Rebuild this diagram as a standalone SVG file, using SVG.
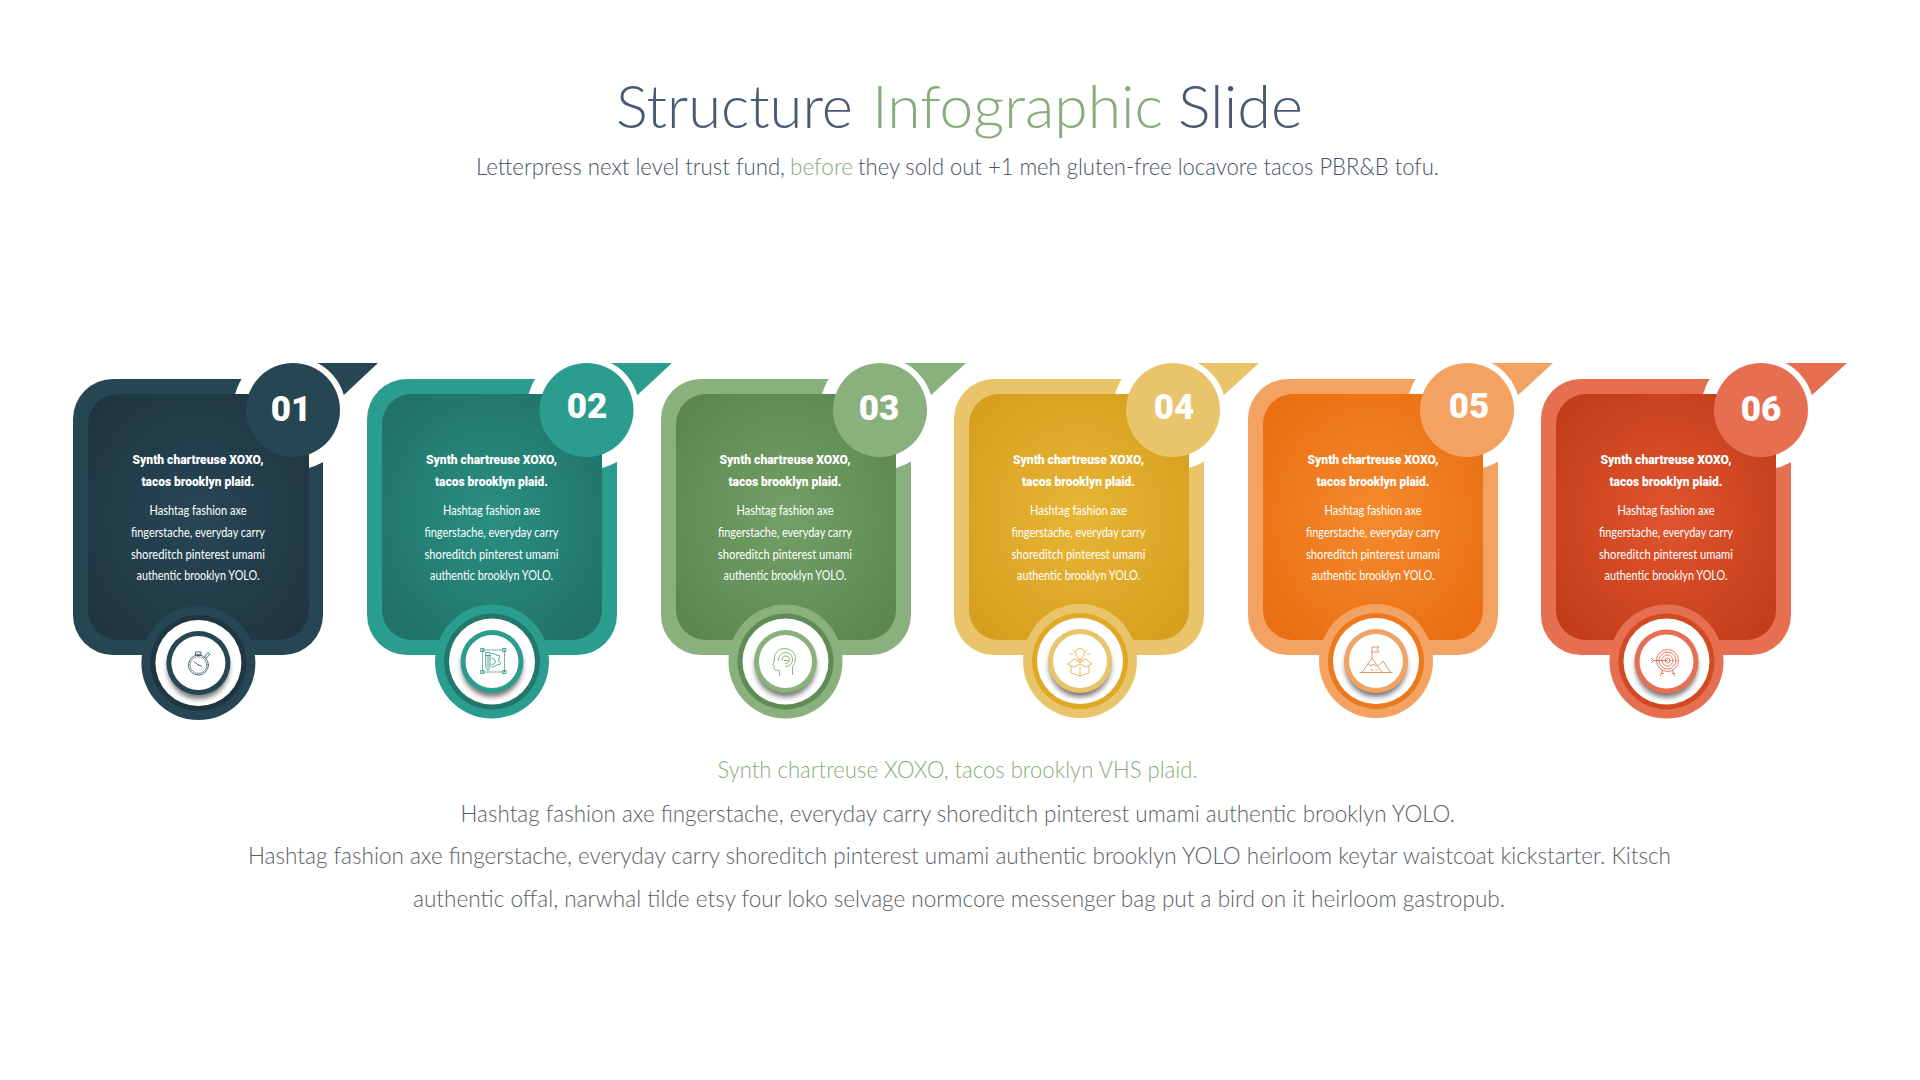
<svg xmlns="http://www.w3.org/2000/svg" width="1920" height="1080" viewBox="0 0 1920 1080">
<style>
.t{font-family:"Lato","Open Sans","Liberation Sans",sans-serif;font-weight:300;text-anchor:start}
.title{font-size:60px;fill:#475a72}
.sub{font-size:23px;fill:#47535f}
.body{font-size:24px;fill:#5a5e64}
.green,.title.green,.sub.green,.body.green{fill:#86ad79}
.h{font-family:"Roboto","Liberation Sans",sans-serif;font-weight:900;font-size:13px;fill:#fff;text-anchor:middle}
.b{font-family:"Lato","Open Sans","Liberation Sans",sans-serif;font-weight:400;font-size:12.5px;fill:#fff;text-anchor:middle}
.n{font-family:"Roboto","Liberation Sans",sans-serif;font-weight:900;font-size:35px;fill:#fff;text-anchor:middle}
.w{fill:#fff}
.ic{fill:none;stroke-width:.8;stroke-linecap:round;stroke-linejoin:round}
.s{fill:#222;opacity:.6;filter:url(#blur)}
</style>
<defs>
<filter id="blur" x="-30%" y="-30%" width="160%" height="160%"><feGaussianBlur stdDeviation="2.5"/></filter>
<radialGradient id="g1" cx=".5" cy=".5" r=".62"><stop offset="0" stop-color="#274655"/><stop offset="1" stop-color="#1f3642"/></radialGradient>
<radialGradient id="g2" cx=".5" cy=".5" r=".62"><stop offset="0" stop-color="#2a8f82"/><stop offset="1" stop-color="#20726a"/></radialGradient>
<radialGradient id="g3" cx=".5" cy=".5" r=".62"><stop offset="0" stop-color="#72a066"/><stop offset="1" stop-color="#5d8752"/></radialGradient>
<radialGradient id="g4" cx=".5" cy=".5" r=".62"><stop offset="0" stop-color="#e8b534"/><stop offset="1" stop-color="#d6a01e"/></radialGradient>
<radialGradient id="g5" cx=".5" cy=".5" r=".62"><stop offset="0" stop-color="#f58a2e"/><stop offset="1" stop-color="#e96f12"/></radialGradient>
<radialGradient id="g6" cx=".5" cy=".5" r=".62"><stop offset="0" stop-color="#e0552f"/><stop offset="1" stop-color="#c43d19"/></radialGradient>
</defs>
<rect width="1920" height="1080" fill="#fff"/>
<g id="title">
<text class="t title" x="616" y="128" textLength="237" lengthAdjust="spacingAndGlyphs">Structure</text>
<text class="t title green" x="872" y="128" textLength="291" lengthAdjust="spacingAndGlyphs">Infographic</text>
<text class="t title" x="1178" y="128" textLength="125" lengthAdjust="spacingAndGlyphs">Slide</text>
<text class="t sub" x="476" y="175" textLength="309" lengthAdjust="spacingAndGlyphs">Letterpress next level trust fund,</text>
<text class="t sub green" x="790" y="175" textLength="63" lengthAdjust="spacingAndGlyphs">before</text>
<text class="t sub" x="858" y="175" textLength="581" lengthAdjust="spacingAndGlyphs">they sold out +1 meh gluten-free locavore tacos PBR&amp;B tofu.</text>
</g>

<g id="node-1" transform="translate(73 0)" fill="#264653">
<rect x="0" y="379" width="250" height="276" rx="40"/>
<circle class="w" cx="220" cy="410" r="60"/>
<polygon points="227,363 305,363 257,408"/>
<circle class="w" cx="220" cy="410" r="53"/>
<rect x="15" y="394" width="221" height="246" rx="30" fill="url(#g1)"/>
<circle cx="220" cy="410" r="47"/>
<text class="n" x="218" y="421">01</text>
<text class="h" x="125" y="464" textLength="131" lengthAdjust="spacingAndGlyphs">Synth chartreuse XOXO,</text>
<text class="h" x="125" y="486" textLength="113" lengthAdjust="spacingAndGlyphs">tacos brooklyn plaid.</text>
<text class="b" x="125" y="515" textLength="97" lengthAdjust="spacingAndGlyphs">Hashtag fashion axe</text>
<text class="b" x="125" y="537" textLength="134" lengthAdjust="spacingAndGlyphs">fingerstache, everyday carry</text>
<text class="b" x="125" y="559" textLength="134" lengthAdjust="spacingAndGlyphs">shoreditch pinterest umami</text>
<text class="b" x="125" y="580" textLength="123" lengthAdjust="spacingAndGlyphs">authentic brooklyn YOLO.</text>
<g transform="translate(125.4 663)">
<circle r="57"/><circle r="48" fill="#1f3642"/><circle class="w" r="43"/>
<circle class="s" cy="5" r="31"/><circle r="32"/><circle class="w" r="27"/>
<g class="ic" stroke="#264653">
<circle cy="2" r="10"/><circle cy="2" r="8.3" stroke-dasharray=".8 1.4"/><path d="M0 2L-4-1M0 2L3 3"/><path d="M-2.5-11h5v3h-5zM-1-8h2"/><path d="M6.5-7l3-3.5 2 1.6-3 3.5z"/>
</g></g>
</g>

<g id="node-2" transform="translate(367 0)" fill="#2a9d8f">
<rect x="0" y="379" width="250" height="276" rx="40"/>
<circle class="w" cx="219.500" cy="410" r="60"/>
<polygon points="226.500,363 305,363 256.500,408"/>
<circle class="w" cx="219.500" cy="410" r="53"/>
<rect x="15" y="394" width="220" height="246" rx="30" fill="url(#g2)"/>
<circle cx="219.500" cy="410" r="47"/>
<text class="n" x="220" y="418">02</text>
<text class="h" x="124.500" y="464" textLength="131" lengthAdjust="spacingAndGlyphs">Synth chartreuse XOXO,</text>
<text class="h" x="124.500" y="486" textLength="113" lengthAdjust="spacingAndGlyphs">tacos brooklyn plaid.</text>
<text class="b" x="124.500" y="515" textLength="97" lengthAdjust="spacingAndGlyphs">Hashtag fashion axe</text>
<text class="b" x="124.500" y="537" textLength="134" lengthAdjust="spacingAndGlyphs">fingerstache, everyday carry</text>
<text class="b" x="124.500" y="559" textLength="134" lengthAdjust="spacingAndGlyphs">shoreditch pinterest umami</text>
<text class="b" x="124.500" y="580" textLength="123" lengthAdjust="spacingAndGlyphs">authentic brooklyn YOLO.</text>
<g transform="translate(125 661.500)">
<circle r="57"/><circle r="48" fill="#21776c"/><circle class="w" r="43"/>
<circle class="s" cy="5" r="30.500"/><circle r="31.500"/><circle class="w" r="26.500"/>
<g class="ic" stroke="#2a8f82">
<rect x="-9.500" y="-11.500" width="22" height="22" stroke-dasharray="1.200 1.200"/>
<path d="M-11-13h3v3h-3zM11-13h3v3h-3zM-11 9h3v3h-3zM11 9h3v3h-3z"/>
<path d="M-6-9h4v15l-2 3-2-3zM-6-6h4M-4-6v12"/>
<path d="M0-8c3 0 4 1 5 2l2-.5 1 2-1.500 1.500c.5 1 .5 2 .5 3l1.500 1.500-1 2-2-.5c-1 1-3 2.500-5.500 2.500M0-3c2 0 3.500 1.500 3.500 3S2 3 0 3"/>
</g></g>
</g>

<g id="node-3" transform="translate(661 0)" fill="#8ab17d">
<rect x="0" y="379" width="250" height="276" rx="40"/>
<circle class="w" cx="219" cy="410" r="60"/>
<polygon points="226,363 305,363 256,408"/>
<circle class="w" cx="219" cy="410" r="53"/>
<rect x="15" y="394" width="220" height="246" rx="30" fill="url(#g3)"/>
<circle cx="219" cy="410" r="47"/>
<text class="n" x="218" y="420">03</text>
<text class="h" x="124" y="464" textLength="131" lengthAdjust="spacingAndGlyphs">Synth chartreuse XOXO,</text>
<text class="h" x="124" y="486" textLength="113" lengthAdjust="spacingAndGlyphs">tacos brooklyn plaid.</text>
<text class="b" x="124" y="515" textLength="97" lengthAdjust="spacingAndGlyphs">Hashtag fashion axe</text>
<text class="b" x="124" y="537" textLength="134" lengthAdjust="spacingAndGlyphs">fingerstache, everyday carry</text>
<text class="b" x="124" y="559" textLength="134" lengthAdjust="spacingAndGlyphs">shoreditch pinterest umami</text>
<text class="b" x="124" y="580" textLength="123" lengthAdjust="spacingAndGlyphs">authentic brooklyn YOLO.</text>
<g transform="translate(124.500 661.500)">
<circle r="57"/><circle r="48" fill="#5f8b55"/><circle class="w" r="43"/>
<circle class="s" cy="5" r="30.500"/><circle r="31.500"/><circle class="w" r="26.500"/>
<g class="ic" stroke="#6f9c63">
<path d="M-6 14V9c-3-.5-5 0-5.500-2v-3l-1.500-1 2-3.500c-1-8 4-12.500 10-12.500 6 0 11 4 11 10 0 4-1.500 6-3 8v8"/>
<path d="M-7-1c0-5 3-8 7-8s7 3 7 7-3 7-7 7"/><path d="M-3.500-1c0-3 1.500-4.500 3.500-4.500s4 1.500 4 3.500-2 4-4 4"/><path d="M-1-1h4"/>
</g></g>
</g>

<g id="node-4" transform="translate(954 0)" fill="#e9c46a">
<rect x="0" y="379" width="250" height="276" rx="40"/>
<circle class="w" cx="219" cy="410" r="60"/>
<polygon points="226,363 305,363 256,408"/>
<circle class="w" cx="219" cy="410" r="53"/>
<rect x="15" y="394" width="220" height="246" rx="30" fill="url(#g4)"/>
<circle cx="219" cy="410" r="47"/>
<text class="n" x="220" y="419">04</text>
<text class="h" x="124.500" y="464" textLength="131" lengthAdjust="spacingAndGlyphs">Synth chartreuse XOXO,</text>
<text class="h" x="124.500" y="486" textLength="113" lengthAdjust="spacingAndGlyphs">tacos brooklyn plaid.</text>
<text class="b" x="124.500" y="515" textLength="97" lengthAdjust="spacingAndGlyphs">Hashtag fashion axe</text>
<text class="b" x="124.500" y="537" textLength="134" lengthAdjust="spacingAndGlyphs">fingerstache, everyday carry</text>
<text class="b" x="124.500" y="559" textLength="134" lengthAdjust="spacingAndGlyphs">shoreditch pinterest umami</text>
<text class="b" x="124.500" y="580" textLength="123" lengthAdjust="spacingAndGlyphs">authentic brooklyn YOLO.</text>
<g transform="translate(126 661)">
<circle r="57"/><circle r="48" fill="#dfa825"/><circle class="w" r="43"/>
<circle class="s" cy="5" r="31"/><circle r="32"/><circle class="w" r="27"/>
<g class="ic" stroke="#d9a83a">
<path d="M-2 -2c0-2-2.500-3-2.500-6a4.500 4.500 0 0 1 9 0c0 3-2.500 4-2.500 6zM-1.500 0h3"/>
<path d="M-7-11l2 2M7-11l-2 2M-10-7h2.500M10-7h-2.500"/>
<path d="M-12 3l6-5 6 4 6-4 6 5-6 3-6-3-6 3zM-9 5v7l9 3 9-3V5M0 6v9"/>
</g></g>
</g>

<g id="node-5" transform="translate(1248 0)" fill="#f4a261">
<rect x="0" y="379" width="250" height="276" rx="40"/>
<circle class="w" cx="219" cy="410" r="60"/>
<polygon points="226,363 305,363 256,408"/>
<circle class="w" cx="219" cy="410" r="53"/>
<rect x="15" y="394" width="220" height="246" rx="30" fill="url(#g5)"/>
<circle cx="219" cy="410" r="47"/>
<text class="n" x="221" y="418">05</text>
<text class="h" x="125" y="464" textLength="131" lengthAdjust="spacingAndGlyphs">Synth chartreuse XOXO,</text>
<text class="h" x="125" y="486" textLength="113" lengthAdjust="spacingAndGlyphs">tacos brooklyn plaid.</text>
<text class="b" x="125" y="515" textLength="97" lengthAdjust="spacingAndGlyphs">Hashtag fashion axe</text>
<text class="b" x="125" y="537" textLength="134" lengthAdjust="spacingAndGlyphs">fingerstache, everyday carry</text>
<text class="b" x="125" y="559" textLength="134" lengthAdjust="spacingAndGlyphs">shoreditch pinterest umami</text>
<text class="b" x="125" y="580" textLength="123" lengthAdjust="spacingAndGlyphs">authentic brooklyn YOLO.</text>
<g transform="translate(128 661)">
<circle r="57"/><circle r="48" fill="#ec7a1c"/><circle class="w" r="43"/>
<circle class="s" cy="5" r="31"/><circle r="32"/><circle class="w" r="27"/>
<g class="ic" stroke="#d9803a" stroke-width="1">
<path d="M-16 11.500h32M-14 11.500L-4-3 6 11.500M2 5L7 0l7.500 11.500M-8 3l3 2 2-2 3 2"/>
<path d="M-4-3v-11h7l-2 2.500 2 2.500h-7"/><path d="M-5 9h2M0 9h1"/>
</g></g>
</g>

<g id="node-6" transform="translate(1541 0)" fill="#e76f51">
<rect x="0" y="379" width="250" height="276" rx="40"/>
<circle class="w" cx="220" cy="410" r="60"/>
<polygon points="227,363 306,363 257,408"/>
<circle class="w" cx="220" cy="410" r="53"/>
<rect x="15" y="394" width="220" height="246" rx="30" fill="url(#g6)"/>
<circle cx="220" cy="410" r="47"/>
<text class="n" x="220" y="421">06</text>
<text class="h" x="125" y="464" textLength="131" lengthAdjust="spacingAndGlyphs">Synth chartreuse XOXO,</text>
<text class="h" x="125" y="486" textLength="113" lengthAdjust="spacingAndGlyphs">tacos brooklyn plaid.</text>
<text class="b" x="125" y="515" textLength="97" lengthAdjust="spacingAndGlyphs">Hashtag fashion axe</text>
<text class="b" x="125" y="537" textLength="134" lengthAdjust="spacingAndGlyphs">fingerstache, everyday carry</text>
<text class="b" x="125" y="559" textLength="134" lengthAdjust="spacingAndGlyphs">shoreditch pinterest umami</text>
<text class="b" x="125" y="580" textLength="123" lengthAdjust="spacingAndGlyphs">authentic brooklyn YOLO.</text>
<g transform="translate(125.500 661.500)">
<circle r="57"/><circle r="48" fill="#d24a22"/><circle class="w" r="43"/>
<circle class="s" cy="5" r="31"/><circle r="32"/><circle class="w" r="27"/>
<g class="ic" stroke="#d65f40" stroke-width="1">
<circle cx="1" cy="-1" r="11"/><circle cx="1" cy="-1" r="8.500"/><circle cx="1" cy="-1" r="5.500"/><circle cx="1" cy="-1" r="2.500"/>
<path d="M1-1h-14M-13-1l-2-2M-13-1l-2 2"/><path d="M-4 9l-2 5M6 9l2 5M-5 12h2M6 12h2"/>
</g></g>
</g>

<g id="footer">
<text class="t body green" x="717.500" y="778" textLength="480" lengthAdjust="spacingAndGlyphs">Synth chartreuse XOXO, tacos brooklyn VHS plaid.</text>
<text class="t body" x="460.500" y="822" textLength="994.500" lengthAdjust="spacingAndGlyphs">Hashtag fashion axe fingerstache, everyday carry shoreditch pinterest umami authentic brooklyn YOLO.</text>
<text class="t body" x="248" y="864" textLength="1423" lengthAdjust="spacingAndGlyphs">Hashtag fashion axe fingerstache, everyday carry shoreditch pinterest umami authentic brooklyn YOLO heirloom keytar waistcoat kickstarter. Kitsch</text>
<text class="t body" x="413" y="907" textLength="1092" lengthAdjust="spacingAndGlyphs">authentic offal, narwhal tilde etsy four loko selvage normcore messenger bag put a bird on it heirloom gastropub.</text>
</g>
</svg>
